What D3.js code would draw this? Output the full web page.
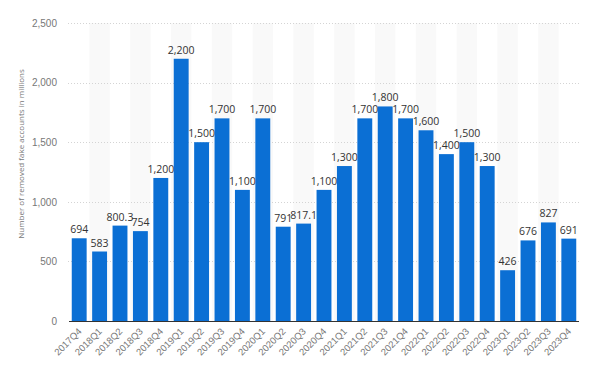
<!DOCTYPE html>
<html>
<head>
<meta charset="utf-8">
<script src="https://cdn.jsdelivr.net/npm/d3@7"></script>
<style>
  html, body { margin: 0; padding: 0; background: #fff; }
  svg { display: block; font-family: "Open Sans", "DejaVu Sans", sans-serif; }
</style>
</head>
<body>
<svg id="chart" width="600" height="369"></svg>
<script>
const categories = ["2017Q4","2018Q1","2018Q2","2018Q3","2018Q4","2019Q1","2019Q2","2019Q3","2019Q4",
  "2020Q1","2020Q2","2020Q3","2020Q4","2021Q1","2021Q2","2021Q3","2021Q4",
  "2022Q1","2022Q2","2022Q3","2022Q4","2023Q1","2023Q2","2023Q3","2023Q4"];
const values = [694, 583, 800.3, 754, 1200, 2200, 1500, 1700, 1100, 1700, 791, 817.1, 1100, 1300,
  1700, 1800, 1700, 1600, 1400, 1500, 1300, 426, 676, 827, 691];
const valueLabels = ["694","583","800.3","754","1,200","2,200","1,500","1,700","1,100","1,700","791","817.1",
  "1,100","1,300","1,700","1,800","1,700","1,600","1,400","1,500","1,300","426","676","827","691"];
const yTicks = [0, 500, 1000, 1500, 2000, 2500];
const yTitle = "Number of removed fake accounts in millions";

const svg = d3.select("#chart");
const m = { left: 69, right: 21, top: 23, bottom: 48 };
const W = 600, H = 369;

const x = d3.scaleBand().domain(categories).range([m.left, W - m.right]).paddingInner(0.27).paddingOuter(0.135);
const y = d3.scaleLinear().domain([0, 2500]).range([H - m.bottom, m.top]);

// alternating background stripes
const step = x.step();
svg.append("g").selectAll("rect").data(categories.filter((d, i) => i % 2 === 1)).join("rect")
  .attr("x", d => x(d) - step * x.paddingInner() / 2)
  .attr("y", y(2500))
  .attr("width", step)
  .attr("height", y(0) - y(2500))
  .attr("fill", "#f9f9f9");

// gridlines
svg.append("g").selectAll("line").data(yTicks.filter(t => t > 0)).join("line")
  .attr("x1", m.left - 1).attr("x2", W - m.right)
  .attr("y1", d => Math.round(y(d)) + 0.5).attr("y2", d => Math.round(y(d)) + 0.5)
  .attr("stroke", "#d4d4d4").attr("stroke-width", 1).attr("stroke-dasharray", "1,2");

// y axis tick labels
const yAxis = d3.axisLeft(y).tickValues(yTicks).tickSize(0).tickPadding(0).tickFormat(d3.format(","));
const gy = svg.append("g").attr("transform", `translate(${m.left - 12},0)`).call(yAxis);
gy.select(".domain").remove();
gy.selectAll("text").attr("fill", "#777").style("font-size", "10px");

// bars
svg.append("g").selectAll("rect").data(values).join("rect")
  .attr("x", (d, i) => x(categories[i]))
  .attr("y", d => y(d))
  .attr("width", x.bandwidth())
  .attr("height", d => y(0) - y(d))
  .attr("fill", "#0b6fd4");

// value labels
svg.append("g").selectAll("text").data(values).join("text")
  .attr("x", (d, i) => x(categories[i]) + x.bandwidth() / 2)
  .attr("y", d => y(d) - 5)
  .attr("text-anchor", "middle")
  .attr("fill", "#333")
  .style("font-size", "10.5px")
  .text((d, i) => valueLabels[i]);

// baseline
svg.append("line")
  .attr("x1", m.left).attr("x2", W - m.right)
  .attr("y1", y(0) + 0.5).attr("y2", y(0) + 0.5)
  .attr("stroke", "#333").attr("stroke-width", 1);

// x axis labels
const xAxis = d3.axisBottom(x).tickSize(0).tickPadding(0);
const gx = svg.append("g").attr("transform", `translate(0,${y(0)})`).call(xAxis);
gx.select(".domain").remove();
gx.selectAll("text")
  .attr("fill", "#777")
  .style("font-size", "9.5px")
  .attr("text-anchor", "end")
  .attr("dy", null)
  .attr("y", 0)
  .attr("transform", "translate(3,11) rotate(-45)");

// y title
svg.append("text")
  .attr("transform", `translate(24,${(m.top + H - m.bottom) / 2 - 18}) rotate(-90)`)
  .attr("text-anchor", "middle")
  .attr("fill", "#777")
  .style("font-size", "8px")
  .text(yTitle);
</script>
</body>
</html>
